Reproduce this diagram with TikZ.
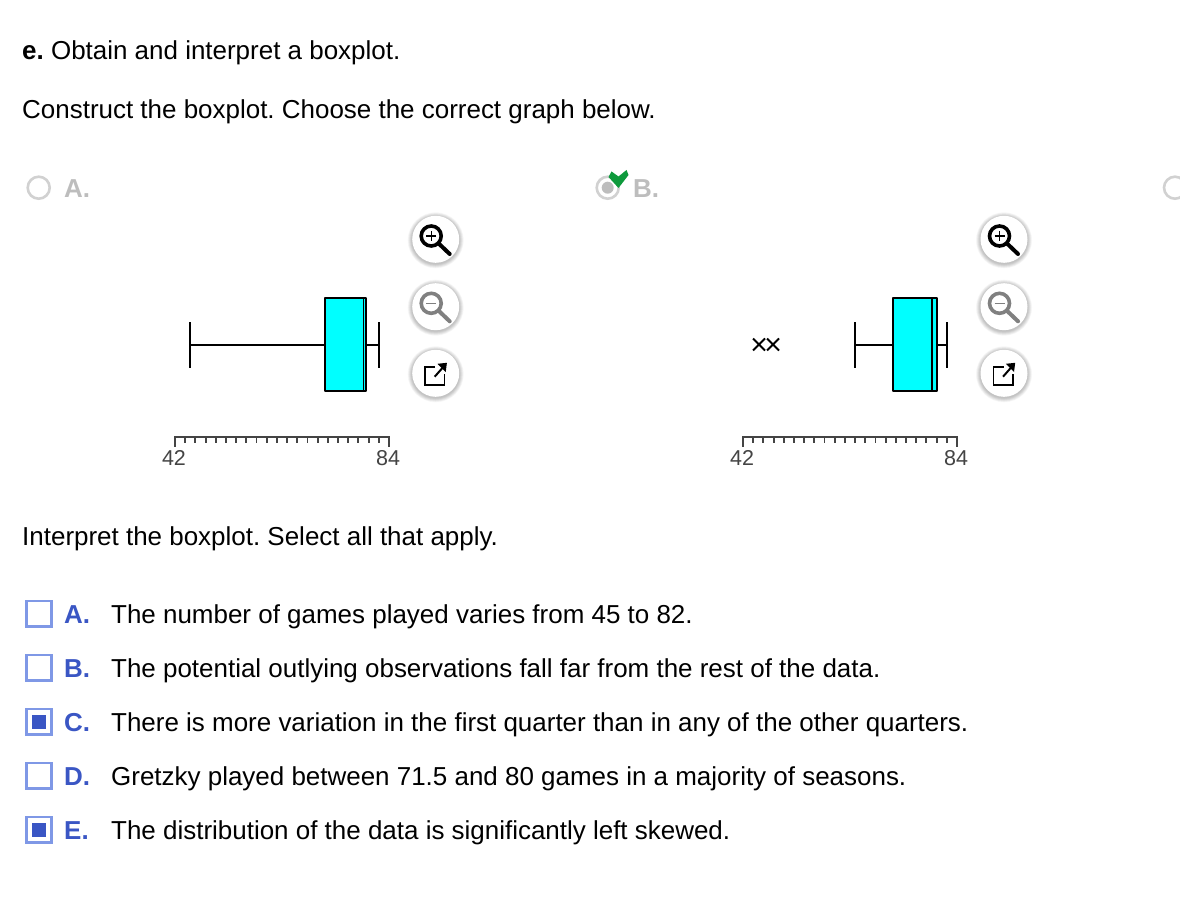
\documentclass[tikz,border=0pt]{standalone}
\usepackage{fontspec}
\setmainfont{Liberation Sans}
\definecolor{qblue}{HTML}{3A56C4}
\definecolor{boxedge}{HTML}{7F98E6}
\definecolor{optgrey}{HTML}{BDBDBD}
\definecolor{axisgrey}{HTML}{444444}
\definecolor{boxcyan}{HTML}{00FFFF}
\definecolor{okgreen}{HTML}{0E9A3C}
\tikzset{
  txt/.style={anchor=base west,inner sep=0pt,font=\fontsize{25.96}{30}\selectfont,text=black},
  optlab/.style={anchor=base west,inner sep=0pt,font=\fontsize{25.96}{30}\selectfont\bfseries,text=qblue},
  greylab/.style={anchor=base west,inner sep=0pt,font=\fontsize{25.96}{30}\selectfont\bfseries,text=optgrey},
  axlab/.style={anchor=base,inner sep=0pt,font=\fontsize{21.5}{24}\selectfont,text=axisgrey},
  radio/.style={draw=black!18,line width=2.6pt,fill=white},
  plotline/.style={draw=black,line width=2pt},
  axline/.style={draw=axisgrey,line width=1.9pt},
  chk/.style={draw=boxedge,line width=2.2pt,fill=white},
  chkfill/.style={fill=qblue},
}
% boxplot axis, at left x
\newcommand{\axisat}[1]{%
  \begin{scope}[shift={(#1,0)}]
    \draw[axline] (0,446.7) -- (0,436.7) -- (214,436.7) -- (214,446.7);
    \foreach \i in {1,...,20} \draw[axline] ({\i*214/21},436.7) -- ({\i*214/21},443);
  \end{scope}}
% three round buttons, centre x
\newcommand{\buttonsat}[1]{%
  \begin{scope}[shift={(#1,0)}]
    \foreach \yy in {239.3,306.7,373.3}{
      \foreach \rr in {28,27.5,27,26.5,26,25.5,25,24.5,24}
        \fill[black,opacity=.028] (0,\yy+1) circle ({\rr});
      \fill[white] (0,\yy) circle (23.5);
    }
    % zoom in
    \draw[black,line width=3.6pt] (-4.5,236) circle (10);
    \draw[black,line width=4pt,line cap=round] (3,243.5) -- (14,254);
    \draw[black,line width=1.4pt] (-9.5,236) -- (0.5,236) (-4.5,231) -- (-4.5,241);
    % zoom out
    \draw[black!50,line width=3.6pt] (-4.5,303.3) circle (10);
    \draw[black!50,line width=4pt,line cap=round] (3,310.8) -- (14,321.3);
    \draw[black!50,line width=1.4pt] (-9.5,303.3) -- (0.5,303.3);
    % open in new window
    \draw[black,line width=1.6pt] (-0.5,366.7) -- (-10.7,366.7) -- (-10.7,385) -- (8.8,385) -- (8.8,374);
    \draw[black,line width=2pt] (-1,376.7) -- (8,366.5);
    \fill[black] (11.2,362.8) -- (1.8,363.8) -- (10,372) -- cycle;
  \end{scope}}
\begin{document}
\frenchspacing
\begin{tikzpicture}[x=1pt,y=-1pt]
\useasboundingbox (0,0) rectangle (1180,904);
\fill[white] (0,0) rectangle (1180,904);

\node[txt] (title) at (22,60) {\textbf{e.} Obtain and interpret a boxplot.};
\node[txt] (construct) at (22,119) {Construct the boxplot. Choose the correct graph below.};

% radios
\draw[radio] (38.7,187.7) circle (11);
\node[greylab] (labA) at (64,197) {A.};
\draw[radio] (607.7,187.7) circle (11);
\fill[optgrey] (607.7,187.7) circle (6);
\node[greylab] (labB) at (633,197) {B.};
\fill[okgreen] (608.5,177) -- (611.5,171.5) -- (618.5,176.5) -- (626.5,170) -- (628.5,175) -- (618.5,188) -- cycle;
\begin{scope}
  \clip (1160,170) rectangle (1180,205);
  \draw[radio] (1175,187.7) circle (11);
\end{scope}

% graph A
\draw[plotline] (190.3,322) -- (190.3,367.7);
\draw[plotline] (378.7,322) -- (378.7,367.7);
\draw[plotline] (190.3,344.7) -- (325,344.7);
\draw[plotline] (366.3,344.7) -- (378.7,344.7);
\draw[plotline,fill=boxcyan,line join=round] (325,298.3) rectangle (366.3,390.7);
\draw[draw=black,line width=1.2pt] (363.3,298.3) -- (363.3,390.7);
\axisat{175}
\node[axlab] (a42) at (174,465) {42};
\node[axlab] (a84) at (388,465) {84};
\buttonsat{435.7}

% graph B
\foreach \cx in {759,773}
  \draw[black,line width=1.9pt] (\cx-6,338.5) -- (\cx+6,350.5) (\cx-6,350.5) -- (\cx+6,338.5);
\draw[plotline] (855,322) -- (855,367.7);
\draw[plotline] (947,322) -- (947,367.7);
\draw[plotline] (855,344.7) -- (893,344.7);
\draw[plotline] (937,344.7) -- (947,344.7);
\draw[plotline,fill=boxcyan,line join=round] (893,298.3) rectangle (937,390.7);
\draw[plotline] (931.7,298.3) -- (931.7,390.7);
\axisat{743}
\node[axlab] (b42) at (742,465) {42};
\node[axlab] (b84) at (956,465) {84};
\buttonsat{1004}

\node[txt] (interpret) at (22,545) {Interpret the boxplot. Select all that apply.};

% options
\foreach \yy in {601,655,709,763,817}
  \draw[chk] (26.5,\yy) rectangle (51.5,\yy+25.5);
\foreach \yy in {709,817}
  \fill[chkfill] (32,\yy+6) rectangle (46,\yy+20);

\node[optlab] (oa) at (64,623) {A.};
\node[txt] (ta) at (111,623) {The number of games played varies from 45 to 82.};
\node[optlab] (ob) at (64,677) {B.};
\node[txt] (tb) at (111,677) {The potential outlying observations fall far from the rest of the data.};
\node[optlab] (oc) at (64,731) {C.};
\node[txt] (tc) at (111,731) {There is more variation in the first quarter than in any of the other quarters.};
\node[optlab] (od) at (64,785) {D.};
\node[txt] (td) at (111,785) {Gretzky played between 71.5 and 80 games in a majority of seasons.};
\node[optlab] (oe) at (64,839) {E.};
\node[txt] (te) at (111,839) {The distribution of the data is significantly left skewed.};
\end{tikzpicture}
\end{document}
